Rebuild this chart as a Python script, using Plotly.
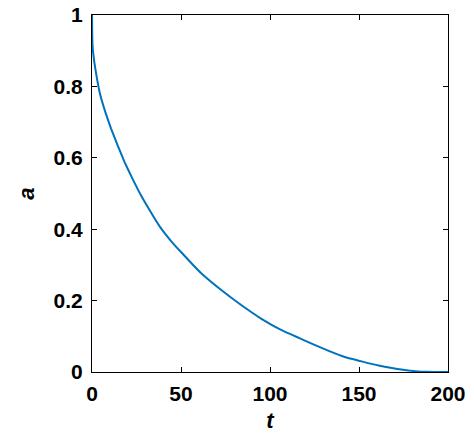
import plotly.graph_objects as go

# values
t = [0, 0.1, 0.3, 1.3, 2.8, 4.7, 7.5, 10.7, 14.4, 18.3, 22.8, 27.5, 32.4, 38,
     44.9, 50, 56, 61.5, 72.8, 84, 95.2, 106.5, 117.7, 133, 142, 152, 161,
     170, 178, 185, 192, 200]
a = [1.0, 0.95, 0.915, 0.868, 0.822, 0.775, 0.728, 0.682, 0.635, 0.588, 0.541,
     0.495, 0.453, 0.408, 0.364, 0.336, 0.304, 0.276, 0.229, 0.187, 0.149,
     0.117, 0.092, 0.059, 0.042, 0.029, 0.018, 0.010, 0.004, 0.001, 0.0, 0.0]

x_ticks = [0, 50, 100, 150, 200]
y_ticks = [0, 0.2, 0.4, 0.6, 0.8, 1]
y_labels = ["0", "0.2", "0.4", "0.6", "0.8", "1"]

font = dict(family="Liberation Sans, Arial, sans-serif", size=22, color="black")

fig = go.Figure()
fig.add_trace(go.Scatter(x=t, y=a, mode="lines",
                         line=dict(color="#0072BD", width=2, shape="spline", smoothing=0.3)))

axis_style = dict(showline=True, linecolor="black", linewidth=1, mirror="ticks",
                  ticks="inside", ticklen=5, tickcolor="black", showgrid=False,
                  zeroline=False, automargin=False, ticklabeloverflow="allow",
                  tickfont=dict(family=font["family"], size=21, color="black"))

fig.update_xaxes(range=[0, 200], tickvals=x_ticks,
                 ticktext=[f"<b>{v}</b>" for v in x_ticks],
                 ticklabelstandoff=3,
                 title=dict(text="<b><i>t</i></b>", font=font, standoff=8),
                 **axis_style)
fig.update_yaxes(range=[0, 1], tickvals=y_ticks,
                 ticktext=[f"<b>{v}</b>" for v in y_labels],
                 ticklabelstandoff=4,
                 title=dict(text="<b><i>a</i></b>", font=font, standoff=12),
                 **axis_style)

fig.update_layout(width=474, height=434, showlegend=False,
                  paper_bgcolor="white", plot_bgcolor="white",
                  margin=dict(l=84, r=34, t=7, b=70))

fig.write_html("out.html")
